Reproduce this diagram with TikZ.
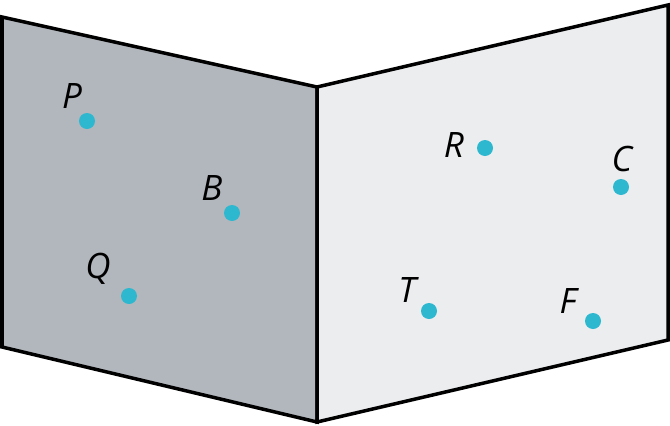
\documentclass[tikz,border=0pt]{standalone}
\usepackage{fontspec}
\setmainfont{Open Sans}
\definecolor{lgray}{RGB}{178,183,189}
\definecolor{rgray}{RGB}{236,237,239}
\definecolor{dotc}{RGB}{45,184,208}
\begin{document}
\begin{tikzpicture}[x=1pt,y=-1pt,
  pt/.style={circle,fill=dotc,inner sep=0pt,minimum size=16pt},
  lbl/.style={font=\fontsize{35}{38}\selectfont\itshape}]
\useasboundingbox (0,0) rectangle (670,426);
\draw[line width=3.5pt,line join=miter,fill=lgray] (2,17) -- (317,87) -- (317,422) -- (2,347) -- cycle;
\draw[line width=3.5pt,line join=miter,fill=rgray] (317,87) -- (668,5) -- (668,340) -- (317,422) -- cycle;
\node[pt] (p) at (87,121) {}; \node[lbl] (pl) at (72,96) {P};
\node[pt] (b) at (232,213) {}; \node[lbl] (bl) at (212,188) {B};
\node[pt] (q) at (129,296) {}; \node[lbl] (ql) at (98,269) {Q};
\node[pt] (r) at (485,148) {}; \node[lbl] (rl) at (454,145) {R};
\node[pt] (c) at (621,187) {}; \node[lbl] (cl) at (622,159) {C};
\node[pt] (t) at (429,311) {}; \node[lbl] (tl) at (407,290) {T};
\node[pt] (f) at (593,321) {}; \node[lbl] (fl) at (568,301) {F};
\end{tikzpicture}
\end{document}
